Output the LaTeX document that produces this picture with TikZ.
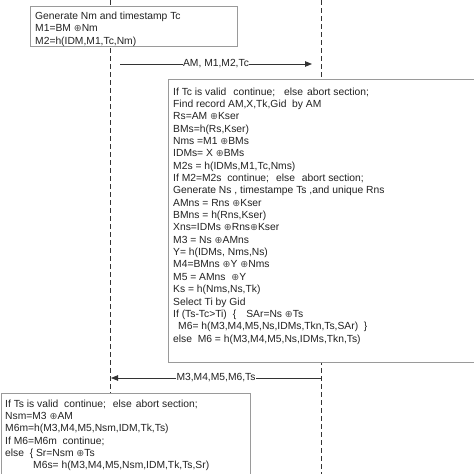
\documentclass[tikz,border=0pt]{standalone}
\usepackage{fontspec}
\setmainfont{Liberation Sans}
\newfontfamily\djv{DejaVu Sans}
\newcommand\xr{{\djv\fontsize{9.5}{9.5}\selectfont\color{black!70}⊕}}
\usetikzlibrary{arrows.meta}
\definecolor{boxgray}{HTML}{9A9A9A}
\definecolor{txt}{HTML}{222222}
\tikzset{
  life/.style={draw=black!80, line width=0.8pt, dash pattern=on 5pt off 3pt},
  boxst/.style={draw=boxgray, fill=white, line width=0.8pt, inner sep=0pt, anchor=north west},
  txtst/.style={anchor=north west, inner sep=0pt, align=left, text=txt, font=\fontsize{10.3}{12.35}\selectfont},
  msg/.style={draw=black!80, line width=0.8pt, -{Triangle[length=7pt,width=5.5pt]}},
  lbl/.style={fill=white, inner sep=0.5pt, text=txt, font=\fontsize{10.3}{12}\selectfont}
}
\begin{document}
\begin{tikzpicture}[x=1pt,y=-1pt]
\useasboundingbox (0,0) rectangle (474,474);
% lifelines
\coordinate (L0) at (110,0); \coordinate (L1) at (110,393);
\coordinate (R0) at (321,0); \coordinate (R1) at (321,474);
\draw[life] (L0) -- (L1);
\draw[life] (R0) -- (R1);
% boxes
\node[boxst, minimum width=207pt, minimum height=40pt] (boxA) at (30,6) {};
\node[boxst, minimum width=320pt, minimum height=283pt] (boxB) at (168,79) {};
\node[boxst, minimum width=249pt, minimum height=100pt] (boxC) at (0.5,393) {};
% texts
\node[txtst] (tA) at (35,11.8) {Generate Nm and timestamp Tc\\
M1=BM \xr Nm\\
M2=h(IDM,M1,Tc,Nm)};
\node[txtst] (tB) at (173,87.4) {If Tc is valid\hspace{7pt}continue;\hspace{9pt}else\hspace{4pt}abort section;\\
Find record AM,X,Tk,Gid\ \ by AM\\
Rs=AM \xr Kser\\
BMs=h(Rs,Kser)\\
Nms =M1 \xr BMs\\
IDMs= X \xr BMs\\
M2s = h(IDMs,M1,Tc,Nms)\\
If M2=M2s\ \ continue;\hspace{7pt}else\hspace{7pt}abort section;\\
Generate Ns , timestampe Ts ,and unique Rns\\
AMns = Rns \xr Kser\\
BMns = h(Rns,Kser)\\
Xns=IDMs \xr Rns\xr Kser\\
M3 = Ns \xr AMns\\
Y= h(IDMs, Nms,Ns)\\
M4=BMns \xr Y \xr Nms\\
M5 = AMns\ \ \xr Y\\
Ks = h(Nms,Ns,Tk)\\
Select Ti by Gid\\
If (Ts-Tc>Ti)\hspace{6pt}\{\hspace{10pt}SAr=Ns \xr Ts\\
\hspace{5pt}M6= h(M3,M4,M5,Ns,IDMs,Tkn,Ts,SAr)\ \ \}\\
else\ \ M6 = h(M3,M4,M5,Ns,IDMs,Tkn,Ts)};
\node[txtst] (tC) at (5,399.5) {If Ts is valid\ \ continue;\hspace{7pt}else\hspace{4pt}abort section;\\
Nsm=M3 \xr AM\\
M6m=h(M3,M4,M5,Nsm,IDM,Tk,Ts)\\
If M6=M6m\ \ continue;\\
else\ \ \{ Sr=Nsm \xr Ts\\
\hspace{28pt}M6s= h(M3,M4,M5,Nsm,IDM,Tk,Ts,Sr)};
% messages
\coordinate (a1s) at (120,64); \coordinate (a1e) at (312,64);
\draw[msg] (a1s) -- node[lbl] (m1) {AM, M1,M2,Tc} (a1e);
\coordinate (a2s) at (321,378); \coordinate (a2e) at (111,378);
\draw[msg] (a2s) -- node[lbl] (m2) {M3,M4,M5,M6,Ts} (a2e);
\end{tikzpicture}
\end{document}
